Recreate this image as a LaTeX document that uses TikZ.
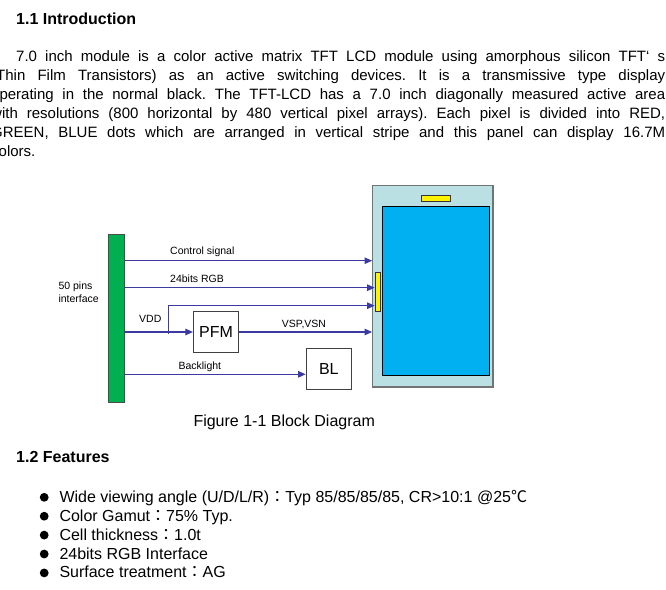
\documentclass[tikz,border=0pt]{standalone}
\usepackage{fontspec}
\setmainfont{Liberation Sans}
\newfontfamily\cjk{Noto Sans CJK JP}
\usetikzlibrary{arrows.meta}
\frenchspacing

\definecolor{sigblue}{RGB}{58,58,160}
\definecolor{padgreen}{RGB}{0,176,80}
\definecolor{glass}{RGB}{186,224,228}
\definecolor{screen}{RGB}{0,176,240}

\newcommand{\fc}{{\cjk ：}}

\begin{document}
\begin{tikzpicture}[x=1pt,y=-1pt,
		sig/.style={draw=sigblue, line width=1.1pt, -{Triangle[length=7.5pt,width=6.5pt]}},
		blk/.style={draw=black!75, fill=white, line width=0.8pt, inner sep=0, font=\fontsize{16}{18}\selectfont},
		lbl/.style={anchor=base west, inner sep=0, font=\fontsize{10.5}{12}\selectfont},
		txt/.style={anchor=base west, inner sep=0, font=\fontsize{15}{19}\selectfont},
		head/.style={anchor=base west, inner sep=0, font=\fontsize{16}{19}\selectfont\bfseries},
		item/.style={anchor=base west, inner sep=0, font=\fontsize{16}{19}\selectfont}]
		\useasboundingbox (0,0) rectangle (666,589);
		
		\node[head] (h1) at (16,24) {1.1 Introduction};
		\node[txt] (p1) at (16,61.7) {\makebox[649pt][s]{7.0 inch module is a color active matrix TFT LCD module using amorphous silicon TFT‘ s}};
		\node[txt] (p2) at (-9,80.7) {\makebox[674pt][s]{(Thin Film Transistors) as an active switching devices. It is a transmissive type display}};
		\node[txt] (p3) at (-9,99.7) {\makebox[674pt][s]{operating in the normal black. The TFT-LCD has a 7.0 inch diagonally measured active area}};
		\node[txt] (p4) at (-9,118.7) {\makebox[674pt][s]{with resolutions (800 horizontal by 480 vertical pixel arrays). Each pixel is divided into RED,}};
		\node[txt] (p5) at (-9,137.7) {\makebox[674pt][s]{GREEN, BLUE dots which are arranged in vertical stripe and this panel can display 16.7M}};
		\node[txt] (p6) at (-9,156.7) {colors.};
		
		% block diagram
		\node[draw=black!70, fill=padgreen, line width=0.6pt, minimum width=16pt, minimum height=168pt, inner sep=0] (conn) at (116.3,318.3) {};
		\node[draw=black!55, fill=glass, line width=1.3pt, minimum width=120.3pt, minimum height=201.3pt, inner sep=0] (panel) at (432.85,286.35) {};
		\node[draw=black, fill=screen, line width=0.8pt, minimum width=107.4pt, minimum height=169.3pt, inner sep=0] (lcd) at (436,290.65) {};
		\node[draw=black!80, fill=yellow, line width=0.7pt, minimum width=28.6pt, minimum height=5.7pt, inner sep=0] (led) at (436,198.15) {};
		\node[draw=black!80, fill=yellow, line width=0.7pt, minimum width=5.7pt, minimum height=39.4pt, inner sep=0] (fpc) at (377.85,292) {};
		\node[blk, minimum width=45.4pt, minimum height=40.6pt] (pfm) at (216,332) {PFM};
		\node[blk, minimum width=45.7pt, minimum height=40.7pt] (bl) at (328.85,368.65) {BL};
		\coordinate (tap) at (168.3,333.5);
		
		\draw[sig] (conn.east |- 0,260.7) -- (panel.west |- 0,260.7);
		\draw[sig] (conn.east |- 0,287.7) -- (fpc.west |- 0,287.7);
		\draw[sig] (tap) -- (tap |- 0,305.7) -- (fpc.west |- 0,305.7);
		\draw[sig] (conn.east |- pfm.west) -- (pfm.west);
		\draw[sig] (pfm.east) -- (panel.west |- pfm.east);
		\draw[sig] (conn.east |- 0,374.3) -- (bl.west |- 0,374.3);
		
		\node[lbl] (lctl) at (170,254) {Control signal};
		\node[lbl] (lrgb) at (170,282) {24bits RGB};
		\node[lbl] (lvdd) at (139,322) {VDD};
		\node[lbl] (lvsp) at (281.7,327) {VSP,VSN};
		\node[lbl] (lbk) at (178.3,369.5) {Backlight};
		\node[lbl] (lpin) at (58.3,289) {50 pins};
		\node[lbl] (lif) at (58.3,302) {interface};
		
		\node[item] (cap) at (193.3,426.7) {Figure 1-1 Block Diagram};
		
		% features
		\node[head] (h2) at (16,462.7) {1.2 Features};
		\foreach \y in {502.3,521.2,540.1,559,577.9}
			\fill (44.2,\y-5) circle (4.4);
		\node[item] (f1) at (59.3,502.3) {Wide viewing angle (U/D/L/R)\fc Typ 85/85/85/85, CR>10:1 @25{\cjk ℃}};
		\node[item] (f2) at (59.3,521.2) {Color Gamut\fc 75\% Typ.};
		\node[item] (f3) at (59.3,540.1) {Cell thickness\fc 1.0t};
		\node[item] (f4) at (59.3,559) {24bits RGB Interface};
		\node[item] (f5) at (59.3,577.9) {Surface treatment\fc AG};
	\end{tikzpicture}
\end{document}
